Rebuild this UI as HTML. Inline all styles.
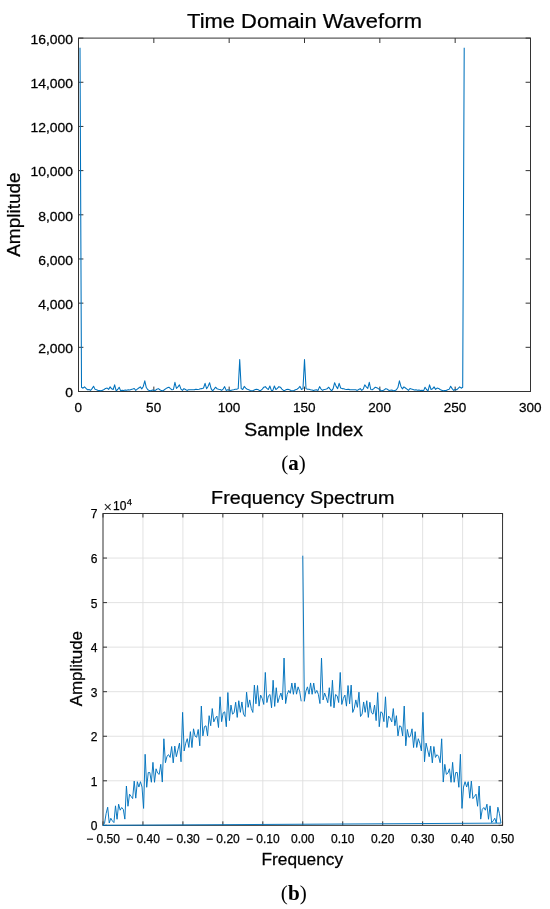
<!DOCTYPE html>
<html lang="en">
<head>
<meta charset="utf-8">
<title>Time Domain Waveform and Frequency Spectrum</title>
<style>
html,body{margin:0;padding:0;background:#fff;}
body{width:550px;height:909px;overflow:hidden;}
svg{display:block;}
text{font-family:"Liberation Sans",Arial,Helvetica,sans-serif;fill:#000;stroke:#000;stroke-width:0.25px;}
.t1{font-size:21px;}
.l1{font-size:18px;}
.k1{font-size:13.4px;}
.t2{font-size:17.8px;}
.l2{font-size:16px;}
.k2{font-size:12px;}
.cap{font-family:"Liberation Serif","DejaVu Serif",serif;font-size:21px;stroke-width:0;}
.cap tspan.b{font-weight:bold;}
</style>
</head>
<body>
<svg width="550" height="909" viewBox="0 0 550 909">
<rect x="0" y="0" width="550" height="909" fill="#ffffff"/>

<g id="plot-a">
<text class="t1" transform="translate(304.50 27.90) scale(1.045 1)" text-anchor="middle">Time Domain Waveform</text>
<path d="M78.50 391.50v-4.9M78.50 38.10v4.9M153.83 391.50v-4.9M153.83 38.10v4.9M229.17 391.50v-4.9M229.17 38.10v4.9M304.50 391.50v-4.9M304.50 38.10v4.9M379.83 391.50v-4.9M379.83 38.10v4.9M455.17 391.50v-4.9M455.17 38.10v4.9M530.50 391.50v-4.9M530.50 38.10v4.9M78.50 391.50h4.9M530.50 391.50h-4.9M78.50 347.32h4.9M530.50 347.32h-4.9M78.50 303.15h4.9M530.50 303.15h-4.9M78.50 258.98h4.9M530.50 258.98h-4.9M78.50 214.80h4.9M530.50 214.80h-4.9M78.50 170.62h4.9M530.50 170.62h-4.9M78.50 126.45h4.9M530.50 126.45h-4.9M78.50 82.27h4.9M530.50 82.27h-4.9M78.50 38.10h4.9M530.50 38.10h-4.9" stroke="#333333" stroke-width="1" fill="none"/>
<rect x="78.50" y="38.10" width="452.00" height="353.40" fill="none" stroke="#333333" stroke-width="1"/>
<polyline points="80.01,47.82 81.51,387.19 83.02,388.19 84.53,386.86 86.03,388.41 87.54,389.73 89.05,389.51 90.55,390.40 92.06,388.63 93.57,386.31 95.07,389.36 96.58,389.73 98.09,390.40 99.59,390.62 101.10,390.84 102.61,390.17 104.11,389.51 105.62,388.41 107.13,388.08 108.63,389.36 110.14,386.86 111.65,388.85 113.15,389.51 114.66,384.87 116.17,390.84 117.67,389.51 119.18,387.19 120.69,390.84 122.19,390.17 123.70,390.40 125.21,389.95 126.71,390.17 128.22,389.73 129.73,389.95 131.23,389.51 132.74,389.07 134.25,388.47 135.75,390.40 137.26,389.07 138.77,387.97 140.27,386.86 141.78,388.85 143.29,386.42 144.79,380.79 146.30,387.52 147.81,389.73 149.31,390.62 150.82,390.84 152.33,389.95 153.83,390.17 155.34,390.40 156.85,389.29 158.35,388.63 159.86,389.73 161.37,390.62 162.87,390.84 164.38,389.73 165.89,388.63 167.39,387.75 168.90,387.19 170.41,388.63 171.91,389.73 173.42,389.51 174.93,382.33 176.43,388.41 177.94,386.86 179.45,384.87 180.95,389.07 182.46,390.40 183.97,388.63 185.47,389.51 186.98,390.40 188.49,389.73 189.99,389.73 191.50,389.73 193.01,389.84 194.51,389.62 196.02,389.29 197.53,389.51 199.03,389.29 200.54,388.85 202.05,388.63 203.55,387.97 205.06,383.33 206.57,388.63 208.07,386.42 209.58,382.67 211.09,388.63 212.59,390.84 214.10,389.07 215.61,387.19 217.11,388.85 218.62,389.29 220.13,389.51 221.63,390.40 223.14,389.07 224.65,386.64 226.15,390.40 227.66,389.73 229.17,389.95 230.67,390.40 232.18,389.95 233.69,389.73 235.19,389.29 236.70,389.29 238.21,388.63 239.71,359.58 241.22,388.63 242.73,389.51 244.23,386.42 245.74,388.19 247.25,389.29 248.75,389.73 250.26,390.40 251.77,390.84 253.27,390.40 254.78,389.73 256.29,389.29 257.79,389.51 259.30,390.40 260.81,390.40 262.31,389.07 263.82,387.19 265.33,386.64 266.83,388.41 268.34,389.51 269.85,385.98 271.35,390.40 272.86,390.40 274.37,385.98 275.87,389.51 277.38,388.41 278.89,386.64 280.39,387.19 281.90,389.07 283.41,390.40 284.91,390.40 286.42,389.51 287.93,389.29 289.43,389.73 290.94,390.40 292.45,390.84 293.95,390.40 295.46,389.73 296.97,389.29 298.47,388.19 299.98,386.42 301.49,389.51 302.99,388.63 304.50,359.58 306.01,388.63 307.51,389.29 309.02,389.29 310.53,389.73 312.03,389.95 313.54,390.40 315.05,389.95 316.55,389.73 318.06,390.40 319.57,386.64 321.07,389.07 322.58,390.40 324.09,389.51 325.59,389.29 327.10,388.85 328.61,387.19 330.11,389.07 331.62,390.84 333.13,388.63 334.63,382.67 336.14,386.42 337.65,388.63 339.15,383.33 340.66,387.97 342.17,388.63 343.67,388.85 345.18,389.29 346.69,389.51 348.19,389.29 349.70,389.62 351.21,389.84 352.71,389.73 354.22,389.73 355.73,389.73 357.23,390.40 358.74,389.51 360.25,388.63 361.75,390.40 363.26,389.07 364.77,384.87 366.27,386.86 367.78,388.41 369.29,382.33 370.79,389.51 372.30,389.73 373.81,388.63 375.31,387.19 376.82,387.75 378.33,388.63 379.83,389.73 381.34,390.84 382.85,390.62 384.35,389.73 385.86,388.63 387.37,389.29 388.87,390.40 390.38,390.17 391.89,389.95 393.39,390.84 394.90,390.62 396.41,389.73 397.91,387.52 399.42,380.79 400.93,386.42 402.43,388.85 403.94,386.86 405.45,387.97 406.95,389.07 408.46,390.40 409.97,388.47 411.47,389.07 412.98,389.51 414.49,389.95 415.99,389.73 417.50,390.17 419.01,389.95 420.51,390.40 422.02,390.17 423.53,390.84 425.03,387.19 426.54,389.51 428.05,390.84 429.55,384.87 431.06,389.51 432.57,388.85 434.07,386.86 435.58,389.36 437.09,388.08 438.59,388.41 440.10,389.51 441.61,390.17 443.11,390.84 444.62,390.62 446.13,390.40 447.63,389.73 449.14,389.36 450.65,386.31 452.15,388.63 453.66,390.40 455.17,389.51 456.67,389.73 458.18,388.41 459.69,386.86 461.19,388.19 462.70,387.19 464.21,47.82" fill="none" stroke="#0072BD" stroke-width="1.05" stroke-linejoin="round"/>
<text class="k1" transform="translate(78.30 411.70) scale(1.010 1)" text-anchor="middle">0</text>
<text class="k1" transform="translate(153.63 411.70) scale(1.010 1)" text-anchor="middle">50</text>
<text class="k1" transform="translate(228.97 411.70) scale(1.010 1)" text-anchor="middle">100</text>
<text class="k1" transform="translate(304.30 411.70) scale(1.010 1)" text-anchor="middle">150</text>
<text class="k1" transform="translate(379.63 411.70) scale(1.010 1)" text-anchor="middle">200</text>
<text class="k1" transform="translate(454.97 411.70) scale(1.010 1)" text-anchor="middle">250</text>
<text class="k1" transform="translate(530.30 411.70) scale(1.010 1)" text-anchor="middle">300</text>
<text class="k1" transform="translate(73.00 397.20) scale(1.040 1)" text-anchor="end">0</text>
<text class="k1" transform="translate(73.00 353.02) scale(1.040 1)" text-anchor="end">2,000</text>
<text class="k1" transform="translate(73.00 308.85) scale(1.040 1)" text-anchor="end">4,000</text>
<text class="k1" transform="translate(73.00 264.68) scale(1.040 1)" text-anchor="end">6,000</text>
<text class="k1" transform="translate(73.00 220.50) scale(1.040 1)" text-anchor="end">8,000</text>
<text class="k1" transform="translate(73.00 176.32) scale(1.040 1)" text-anchor="end">10,000</text>
<text class="k1" transform="translate(73.00 132.15) scale(1.040 1)" text-anchor="end">12,000</text>
<text class="k1" transform="translate(73.00 87.97) scale(1.040 1)" text-anchor="end">14,000</text>
<text class="k1" transform="translate(73.00 43.80) scale(1.040 1)" text-anchor="end">16,000</text>
<text class="l1" transform="translate(303.70 435.50) scale(1.080 1)" text-anchor="middle">Sample Index</text>
<text class="l1" transform="translate(20.00 214.60) rotate(-90) scale(1.055 1)" text-anchor="middle">Amplitude</text>
<text class="cap" transform="translate(293.40 470.20)" text-anchor="middle">(<tspan class="b">a</tspan>)</text>
</g>
<g id="plot-b">
<text class="t2" transform="translate(302.77 503.90) scale(1.110 1)" text-anchor="middle">Frequency Spectrum</text>
<path d="M142.95 513.50V825.35M182.91 513.50V825.35M222.87 513.50V825.35M262.82 513.50V825.35M302.77 513.50V825.35M342.73 513.50V825.35M382.69 513.50V825.35M422.64 513.50V825.35M462.60 513.50V825.35M103.00 780.80H502.55M103.00 736.25H502.55M103.00 691.70H502.55M103.00 647.15H502.55M103.00 602.60H502.55M103.00 558.05H502.55" stroke="#dfdfdf" stroke-width="0.9" fill="none"/>
<path d="M103.00 825.35v-4M103.00 513.50v4M142.95 825.35v-4M142.95 513.50v4M182.91 825.35v-4M182.91 513.50v4M222.87 825.35v-4M222.87 513.50v4M262.82 825.35v-4M262.82 513.50v4M302.77 825.35v-4M302.77 513.50v4M342.73 825.35v-4M342.73 513.50v4M382.69 825.35v-4M382.69 513.50v4M422.64 825.35v-4M422.64 513.50v4M462.60 825.35v-4M462.60 513.50v4M502.55 825.35v-4M502.55 513.50v4M103.00 825.35h4M502.55 825.35h-4M103.00 780.80h4M502.55 780.80h-4M103.00 736.25h4M502.55 736.25h-4M103.00 691.70h4M502.55 691.70h-4M103.00 647.15h4M502.55 647.15h-4M103.00 602.60h4M502.55 602.60h-4M103.00 558.05h4M502.55 558.05h-4M103.00 513.50h4M502.55 513.50h-4" stroke="#333333" stroke-width="1" fill="none"/>
<rect x="103.00" y="513.50" width="399.55" height="311.85" fill="none" stroke="#333333" stroke-width="1"/>
<polyline points="302.77,555.69 304.34,701.29 305.90,691.22 307.46,686.87 309.02,694.16 310.58,682.94 312.14,694.31 313.70,683.07 315.26,693.33 316.82,690.41 318.38,694.41 319.94,703.55 321.50,658.02 323.06,699.92 324.63,693.02 326.19,697.37 327.75,702.69 329.31,687.72 330.87,706.41 332.43,680.26 333.99,707.80 335.55,694.50 337.11,695.82 338.67,702.56 340.23,672.45 341.79,704.45 343.35,698.39 344.92,695.08 346.48,706.15 348.04,685.53 349.60,703.79 351.16,685.09 352.72,712.44 354.28,708.42 355.84,699.90 357.40,707.32 358.96,692.20 360.52,716.54 362.08,714.04 363.64,701.96 365.20,712.34 366.77,700.73 368.33,717.41 369.89,702.27 371.45,712.72 373.01,714.16 374.57,705.10 376.13,720.64 377.69,692.52 379.25,726.72 380.81,711.83 382.37,712.86 383.93,721.67 385.49,696.81 387.06,727.51 388.62,716.07 390.18,718.14 391.74,721.88 393.30,708.57 394.86,725.74 396.42,715.70 397.98,735.90 399.54,725.84 401.10,726.57 402.66,735.90 404.22,706.06 405.78,745.82 407.34,729.49 408.91,737.24 410.47,736.17 412.03,728.82 413.59,747.56 415.15,731.67 416.71,747.44 418.27,738.69 419.83,743.20 421.39,750.97 422.95,712.35 424.51,761.78 426.07,743.11 427.63,749.90 429.20,756.71 430.76,746.08 432.32,762.85 433.88,746.52 435.44,757.45 437.00,754.70 438.56,756.24 440.12,762.72 441.68,738.79 443.24,782.06 444.80,764.35 446.36,774.38 447.92,773.14 449.48,768.81 451.05,782.31 452.61,762.35 454.17,782.26 455.73,772.50 457.29,772.54 458.85,787.28 460.41,754.29 461.97,808.42 463.53,787.04 465.09,781.69 466.65,787.04 468.21,781.69 469.77,798.17 471.34,781.07 472.90,798.62 474.46,796.39 476.02,794.17 477.58,806.24 479.14,786.01 480.70,819.11 482.26,809.40 483.82,807.53 485.38,810.20 486.94,804.19 488.50,819.25 490.06,805.84 491.62,822.59 493.19,820.89 494.75,818.22 496.31,822.99 497.87,807.22 499.43,813.59 500.99,823.12 103.00,825.35 104.56,823.12 106.12,813.59 107.68,807.22 109.24,822.99 110.80,818.22 112.36,820.89 113.93,822.59 115.49,805.84 117.05,819.25 118.61,804.19 120.17,810.20 121.73,807.53 123.29,809.40 124.85,819.11 126.41,786.01 127.97,806.24 129.53,794.17 131.09,796.39 132.65,798.62 134.21,781.07 135.78,798.17 137.34,781.69 138.90,787.04 140.46,781.69 142.02,787.04 143.58,808.42 145.14,754.29 146.70,787.28 148.26,772.54 149.82,772.50 151.38,782.26 152.94,762.35 154.50,782.31 156.07,768.81 157.63,773.14 159.19,774.38 160.75,764.35 162.31,782.06 163.87,738.79 165.43,762.72 166.99,756.24 168.55,754.70 170.11,757.45 171.67,746.52 173.23,762.85 174.79,746.08 176.35,756.71 177.92,749.90 179.48,743.11 181.04,761.78 182.60,712.35 184.16,750.97 185.72,743.20 187.28,738.69 188.84,747.44 190.40,731.67 191.96,747.56 193.52,728.82 195.08,736.17 196.64,737.24 198.21,729.49 199.77,745.82 201.33,706.06 202.89,735.90 204.45,726.57 206.01,725.84 207.57,735.90 209.13,715.70 210.69,725.74 212.25,708.57 213.81,721.88 215.37,718.14 216.93,716.07 218.49,727.51 220.06,696.81 221.62,721.67 223.18,712.86 224.74,711.83 226.30,726.72 227.86,692.52 229.42,720.64 230.98,705.10 232.54,714.16 234.10,712.72 235.66,702.27 237.22,717.41 238.78,700.73 240.35,712.34 241.91,701.96 243.47,714.04 245.03,716.54 246.59,692.20 248.15,707.32 249.71,699.90 251.27,708.42 252.83,712.44 254.39,685.09 255.95,703.79 257.51,685.53 259.07,706.15 260.63,695.08 262.20,698.39 263.76,704.45 265.32,672.45 266.88,702.56 268.44,695.82 270.00,694.50 271.56,707.80 273.12,680.26 274.68,706.41 276.24,687.72 277.80,702.69 279.36,697.37 280.92,693.02 282.49,699.92 284.05,658.02 285.61,703.55 287.17,694.41 288.73,690.41 290.29,693.33 291.85,683.07 293.41,694.31 294.97,682.94 296.53,694.16 298.09,686.87 299.65,691.22 301.21,701.29" fill="none" stroke="#0072BD" stroke-width="0.95" stroke-linejoin="round"/>
<text class="k2" transform="translate(103.00 843.20)" text-anchor="middle">− 0.50</text>
<text class="k2" transform="translate(142.95 843.20)" text-anchor="middle">− 0.40</text>
<text class="k2" transform="translate(182.91 843.20)" text-anchor="middle">− 0.30</text>
<text class="k2" transform="translate(222.87 843.20)" text-anchor="middle">− 0.20</text>
<text class="k2" transform="translate(262.82 843.20)" text-anchor="middle">− 0.10</text>
<text class="k2" transform="translate(302.77 843.20)" text-anchor="middle">0.00</text>
<text class="k2" transform="translate(342.73 843.20)" text-anchor="middle">0.10</text>
<text class="k2" transform="translate(382.69 843.20)" text-anchor="middle">0.20</text>
<text class="k2" transform="translate(422.64 843.20)" text-anchor="middle">0.30</text>
<text class="k2" transform="translate(462.60 843.20)" text-anchor="middle">0.40</text>
<text class="k2" transform="translate(502.55 843.20)" text-anchor="middle">0.50</text>
<text class="k2" transform="translate(97.40 830.25)" text-anchor="end">0</text>
<text class="k2" transform="translate(97.40 785.70)" text-anchor="end">1</text>
<text class="k2" transform="translate(97.40 741.15)" text-anchor="end">2</text>
<text class="k2" transform="translate(97.40 696.60)" text-anchor="end">3</text>
<text class="k2" transform="translate(97.40 652.05)" text-anchor="end">4</text>
<text class="k2" transform="translate(97.40 607.50)" text-anchor="end">5</text>
<text class="k2" transform="translate(97.40 562.95)" text-anchor="end">6</text>
<text class="k2" transform="translate(97.40 518.40)" text-anchor="end">7</text>
<text class="k2" transform="translate(103.60 510.20)" text-anchor="start"><tspan font-size="14.5px" dy="1.8" stroke-width="0" fill="#222">×</tspan><tspan dx="1" dy="-1.8">10</tspan><tspan dy="-4.9" dx="0.3" font-size="9.4px">4</tspan></text>
<text class="l2" transform="translate(302.27 865.00) scale(1.080 1)" text-anchor="middle">Frequency</text>
<text class="l2" transform="translate(82.00 668.70) rotate(-90) scale(1.060 1)" text-anchor="middle">Amplitude</text>
<text class="cap" transform="translate(293.80 900.10) scale(1.010 1)" text-anchor="middle">(<tspan class="b">b</tspan>)</text>
</g>
</svg>
</body>
</html>
